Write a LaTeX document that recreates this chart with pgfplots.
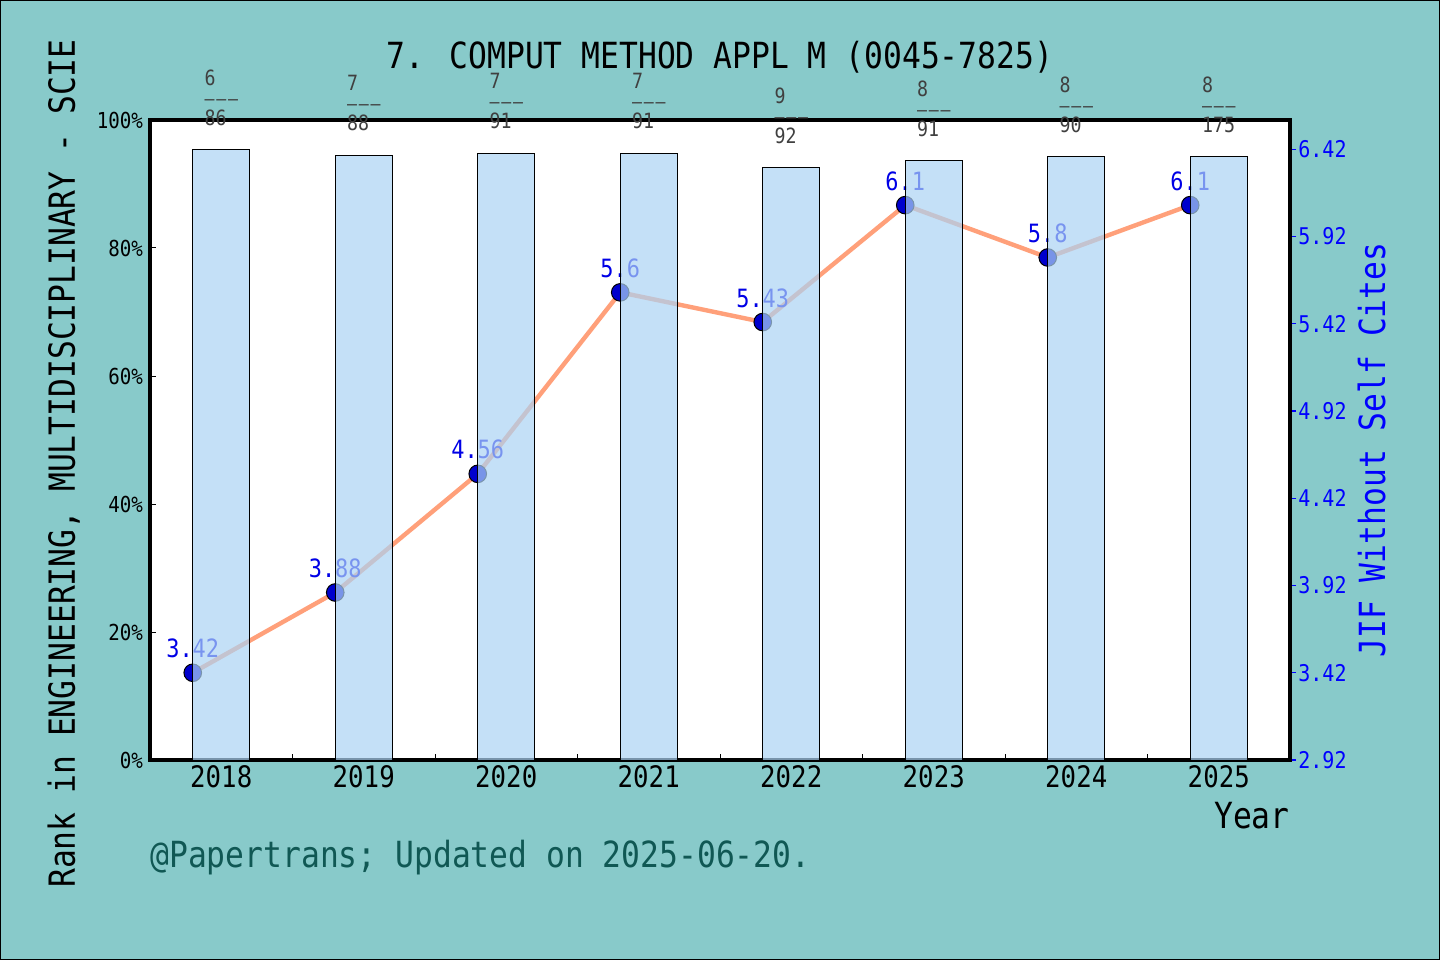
\documentclass[border=0pt]{standalone}
\usepackage{fontspec}
\setmainfont{DejaVu Sans Mono}[FakeStretch=0.87]
\usepackage{pgfplots}
\pgfplotsset{compat=1.18}
\usepackage{pgfplotstable}

\definecolor{bgteal}{RGB}{136,202,202}
\definecolor{barblue}{RGB}{172,211,244}
\definecolor{salmon}{RGB}{255,160,122}
\definecolor{markblue}{RGB}{0,0,205}
\definecolor{ptblue}{RGB}{0,0,230}
\definecolor{axblue}{RGB}{0,0,255}
\definecolor{rankgray}{RGB}{64,64,64}
\definecolor{foot}{RGB}{16,88,84}

\newcommand{\rdash}{{\fontsize{9.5}{10}\selectfont –\kern0.9pt–\kern0.9pt–}}

\pgfplotstableread{
x y lab
-0.2 3.42 3.42
0.8 3.88 3.88
1.8 4.56 4.56
2.8 5.6 5.6
3.8 5.43 5.43
4.8 6.1 6.1
5.8 5.8 5.8
6.8 6.1 6.1
}\jifdata

\pgfplotstableread{
x pct r n
0 95.4 6 86
1 94.5 7 88
2 94.8 7 91
3 94.8 7 91
4 92.6 9 92
5 93.6 8 91
6 94.3 8 90
7 94.3 8 175
}\rankdata

\begin{document}
\begin{tikzpicture}
\useasboundingbox (-75pt,-100pt) rectangle (645pt,380pt);
\fill[bgteal] (-75pt,-100pt) rectangle (645pt,380pt);
\draw[black, line width=0.6pt] (-74.7pt,-99.7pt) rectangle (644.7pt,379.7pt);
\fill[white] (0,0) rectangle (570pt,320pt);

\begin{axis}[
  width=570pt, height=320pt, scale only axis,
  xmin=-0.5, xmax=7.5, ymin=2.92, ymax=6.588,
  hide x axis, axis y line*=right,
  axis line style={line width=1.6pt},
  ytick={2.92,3.42,3.92,4.42,4.92,5.42,5.92,6.42},
  yticklabels={2.92,3.42,3.92,4.42,4.92,5.42,5.92,6.42},
  tick align=outside, major tick length=3pt,
  tick style={axblue, line width=0.6pt},
  yticklabel style={font=\fontsize{11.5}{12}\selectfont, text=axblue, inner sep=1pt},
  clip=false]
\addplot[salmon, line width=2.2pt, line join=round,
  mark=*, mark size=4.4pt, mark options={fill=markblue, draw=black, line width=0.5pt},
  nodes near coords, point meta=explicit symbolic,
  every node near coord/.style={anchor=base, yshift=7.5pt, inner sep=0pt,
     font=\fontsize{12.6}{13}\selectfont, text=ptblue}]
  table[x=x, y=y, meta=lab] {\jifdata};
\end{axis}

\begin{axis}[
  width=570pt, height=320pt, scale only axis,
  xmin=-0.5, xmax=7.5, ymin=0, ymax=100,
  axis line style={line width=1.6pt},
  ytick={0,20,40,60,80,100},
  yticklabels={0\%,20\%,40\%,60\%,80\%,100\%},
  ytick pos=left, xtick pos=bottom,
  xtick={0.5,1.5,2.5,3.5,4.5,5.5,6.5},
  xticklabels={,,,,,,},
  tick align=inside, major tick length=3pt,
  tick style={black, line width=0.5pt},
  extra x ticks={0,1,2,3,4,5,6,7},
  extra x tick labels={2018,2019,2020,2021,2022,2023,2024,2025},
  extra x tick style={major tick length=0pt},
  xticklabel style={font=\fontsize{14.8}{15}\selectfont, anchor=base, yshift=-13.5pt},
  yticklabel style={font=\fontsize{11}{12}\selectfont},
  clip=false]
\addplot[ybar, bar width=0.4, fill=barblue, fill opacity=0.7, draw=black, line width=0.5pt,
  visualization depends on={\thisrow{r}\as\rr},
  visualization depends on={\thisrow{n}\as\nn},
  nodes near coords={\pgfmathprintnumber[assume math mode=true]{\rr}\\\rdash\\\pgfmathprintnumber[assume math mode=true]{\nn}},
  every node near coord/.style={anchor=center, yshift=26pt, align=left, inner sep=0pt,
     font=\fontsize{10.5}{10}\selectfont, text=rankgray, text opacity=1, fill opacity=1}]
  table[x=x, y=pct] {\rankdata};
\end{axis}

\node[anchor=base, inner sep=0pt, font=\fontsize{18}{20}\selectfont] at (285pt,345.5pt) {7. COMPUT METHOD APPL M (0045-7825)};
\node[rotate=90, anchor=base, inner sep=0pt, font=\fontsize{18}{20}\selectfont] at (-37.5pt,148.25pt) {Rank in ENGINEERING, MULTIDISCIPLINARY - SCIE};
\node[rotate=90, anchor=base, inner sep=0pt, font=\fontsize{18}{20}\selectfont, text=axblue] at (617.5pt,155pt) {JIF Without Self Cites};
\node[anchor=base east, inner sep=0pt, font=\fontsize{18}{20}\selectfont] at (570pt,-34pt) {Year};
\node[anchor=base west, inner sep=0pt, font=\fontsize{18}{20}\selectfont, text=foot] at (0pt,-53.5pt) {@Papertrans; Updated on 2025-06-20.};
\end{tikzpicture}
\end{document}
